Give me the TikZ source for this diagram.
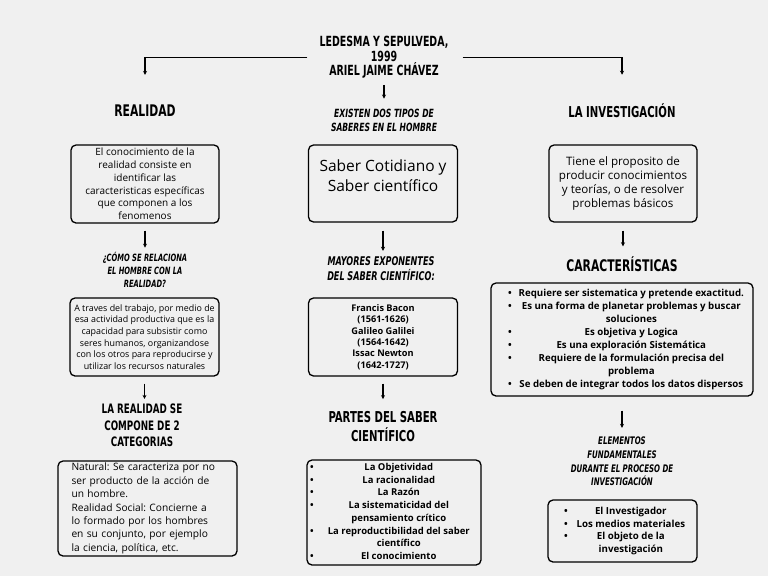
\documentclass[tikz,border=0pt]{standalone}
\usepackage{fontspec}
\usepackage{array}
\setmainfont{Open Sans}
\newfontfamily\handfont{DejaVu Sans Condensed}[FakeStretch=0.75]
\usetikzlibrary{arrows.meta}
\definecolor{fondo}{HTML}{F0F0F0}
\newcolumntype{C}[1]{>{\centering\arraybackslash}p{#1}}
\newcommand{\fs}[2]{\fontsize{#1}{#2}\selectfont}
\frenchspacing

\begin{document}
\begin{tikzpicture}[x=1pt,y=-1pt,>={Stealth[length=4pt,width=4pt]},
    every node/.style={inner sep=0pt},
    caja/.style={draw,line width=1.3pt,rounded corners=5pt,align=center},
    titulo/.style={align=center,font=\handfont\bfseries#1},
    flecha/.style={->,line width=1.1pt}]
  \fill[fondo] (0,0) rectangle (768,576);
  \useasboundingbox (0,0) rectangle (768,576);

  \node[titulo={\fs{14}{14.5}}] (autor) at (384,57.5) {LEDESMA Y SEPULVEDA,\\1999\\ARIEL JAIME CHÁVEZ};

  \node[titulo={\fs{16}{18}}] (realidad) at (145,111) {REALIDAD};
  \node[titulo={\itshape\fs{11.3}{14}}] (tipos) at (384,120) {EXISTEN DOS TIPOS DE\\SABERES EN EL HOMBRE};
  \node[titulo={\fs{15}{16}}] (invest) at (622,111) {LA INVESTIGACIÓN};

  \node[caja,minimum width=148pt,minimum height=78pt,font=\fs{10}{12.8}] (conoc) at (145,184)
    {El conocimiento de la\\realidad consiste en\\identificar las\\caracteristicas específicas\\que componen a los\\fenomenos};
  \node[caja,minimum width=149pt,minimum height=77pt,font=\fs{15.5}{20}] (saber) at (383,183.5)
    {Saber Cotidiano y\\Saber científico\rule[-16pt]{0pt}{16pt}};
  \node[caja,minimum width=148pt,minimum height=77pt,font=\fs{11.6}{13.7}] (proposito) at (623,183.5)
    {Tiene el proposito de\\producir conocimientos\\y teorías, o de resolver\\problemas básicos};

  \node[titulo={\itshape\fs{10}{13}}] (relacion) at (145,269.5) {¿CÓMO SE RELACIONA\\EL HOMBRE CON LA\\REALIDAD?};
  \node[titulo={\itshape\fs{12}{15}}] (exponentes) at (381,269) {MAYORES EXPONENTES\\DEL SABER CIENTÍFICO:};
  \node[titulo={\fs{16}{18}}] (caract) at (622,264) {CARACTERÍSTICAS};

  \node[caja,minimum width=149pt,minimum height=78pt,font=\fs{8.9}{11.7}] (trabajo) at (144.5,337)
    {A traves del trabajo, por medio de\\esa actividad productiva que es la\\capacidad para subsistir como\\seres humanos, organizandose\\con los otros para reproducirse y\\utilizar los recursos naturales};
  \node[caja,minimum width=149pt,minimum height=78pt,font=\bfseries\fs{9.2}{11.4}] (bacon) at (383,337)
    {Francis Bacon\\(1561-1626)\\Galileo Galilei\\(1564-1642)\\Issac Newton\\(1642-1727)};
  \node[caja,minimum width=262pt,minimum height=113pt,font=\bfseries\fs{9.7}{13}] (requiere) at (622,339.5)
    {\begin{tabular}{@{\hspace{17pt}}c@{\hspace{4pt}}C{231pt}@{\hspace{6pt}}}
      \textbullet & Requiere ser sistematica y pretende exactitud.\\
      \textbullet & Es una forma de planetar problemas y buscar\linebreak soluciones\\
      \textbullet & Es objetiva y Logica\\
      \textbullet & Es una exploración Sistemática\\
      \textbullet & Requiere de la formulación precisa del\linebreak problema\\
      \textbullet & Se deben de integrar todos los datos dispersos
    \end{tabular}};

  \node[titulo={\fs{13}{16.5}}] (categorias) at (142,425.5) {LA REALIDAD SE\\COMPONE DE 2\\CATEGORIAS};
  \node[titulo={\fs{15}{19}}] (partes) at (383,426.5) {PARTES DEL SABER\\CIENTÍFICO};
  \node[titulo={\itshape\fs{10.4}{13.7}}] (elementos) at (622,461.5) {ELEMENTOS\\FUNDAMENTALES\\DURANTE EL PROCESO DE\\INVESTIGACIÓN};

  \node[caja,minimum width=179pt,minimum height=95pt,text width=152pt,align=left,font=\fs{10.2}{13.4}] (natural) at (147.5,508.5)
    {Natural: Se caracteriza por no\\ser producto de la acción de\\un hombre.\\Realidad Social: Concierne a\\lo formado por los hombres\\en su conjunto, por ejemplo\\la ciencia, política, etc.};
  \node[caja,minimum width=174pt,minimum height=105pt,font=\bfseries\fs{9.5}{12.7}] (objetividad) at (394,512.5)
    {\begin{tabular}{@{\hspace{3pt}}c@{\hspace{3pt}}C{164pt}@{}}
      \textbullet & La Objetividad\\
      \textbullet & La racionalidad\\
      \textbullet & La Razón\\
      \textbullet & La sistematicidad del\linebreak pensamiento crítico\\
      \textbullet & La reproductibilidad del saber\linebreak científico\\
      \textbullet & El conocimiento
    \end{tabular}};
  \node[caja,minimum width=149pt,minimum height=62pt,font=\bfseries\fs{9.7}{12.8}] (investigador) at (622.5,531)
    {\begin{tabular}{@{\hspace{15pt}}c@{\hspace{4pt}}C{118pt}@{\hspace{6pt}}}
      \textbullet & El Investigador\\
      \textbullet & Los medios materiales\\
      \textbullet & El objeto de la\linebreak investigación
    \end{tabular}};

  \draw[flecha,shorten <=12pt,shorten >=30pt] (autor.west) -| (realidad.north);
  \draw[flecha,shorten <=14pt,shorten >=29pt] (autor.east) -| (invest.north);
  \draw[flecha,shorten <=6pt,shorten >=10pt] (autor.south) -- (autor.south |- tipos.north);
  \draw[flecha,shorten <=7pt,shorten >=4pt] (conoc.south) -- (conoc.south |- relacion.north);
  \draw[flecha,shorten <=8pt,shorten >=6pt] (saber.south) -- (saber.south |- exponentes.north);
  \draw[flecha,shorten <=8pt,shorten >=10pt] (proposito.south) -- (proposito.south |- caract.north);
  \draw[flecha,shorten <=7pt,shorten >=5pt] (trabajo.south) -- (trabajo.south |- categorias.north);
  \draw[flecha,shorten <=7pt,shorten >=12pt] (bacon.south) -- (bacon.south |- partes.north);
  \draw[flecha,shorten <=14pt,shorten >=9pt] (requiere.south) -- (requiere.south |- elementos.north);
\end{tikzpicture}
\end{document}
